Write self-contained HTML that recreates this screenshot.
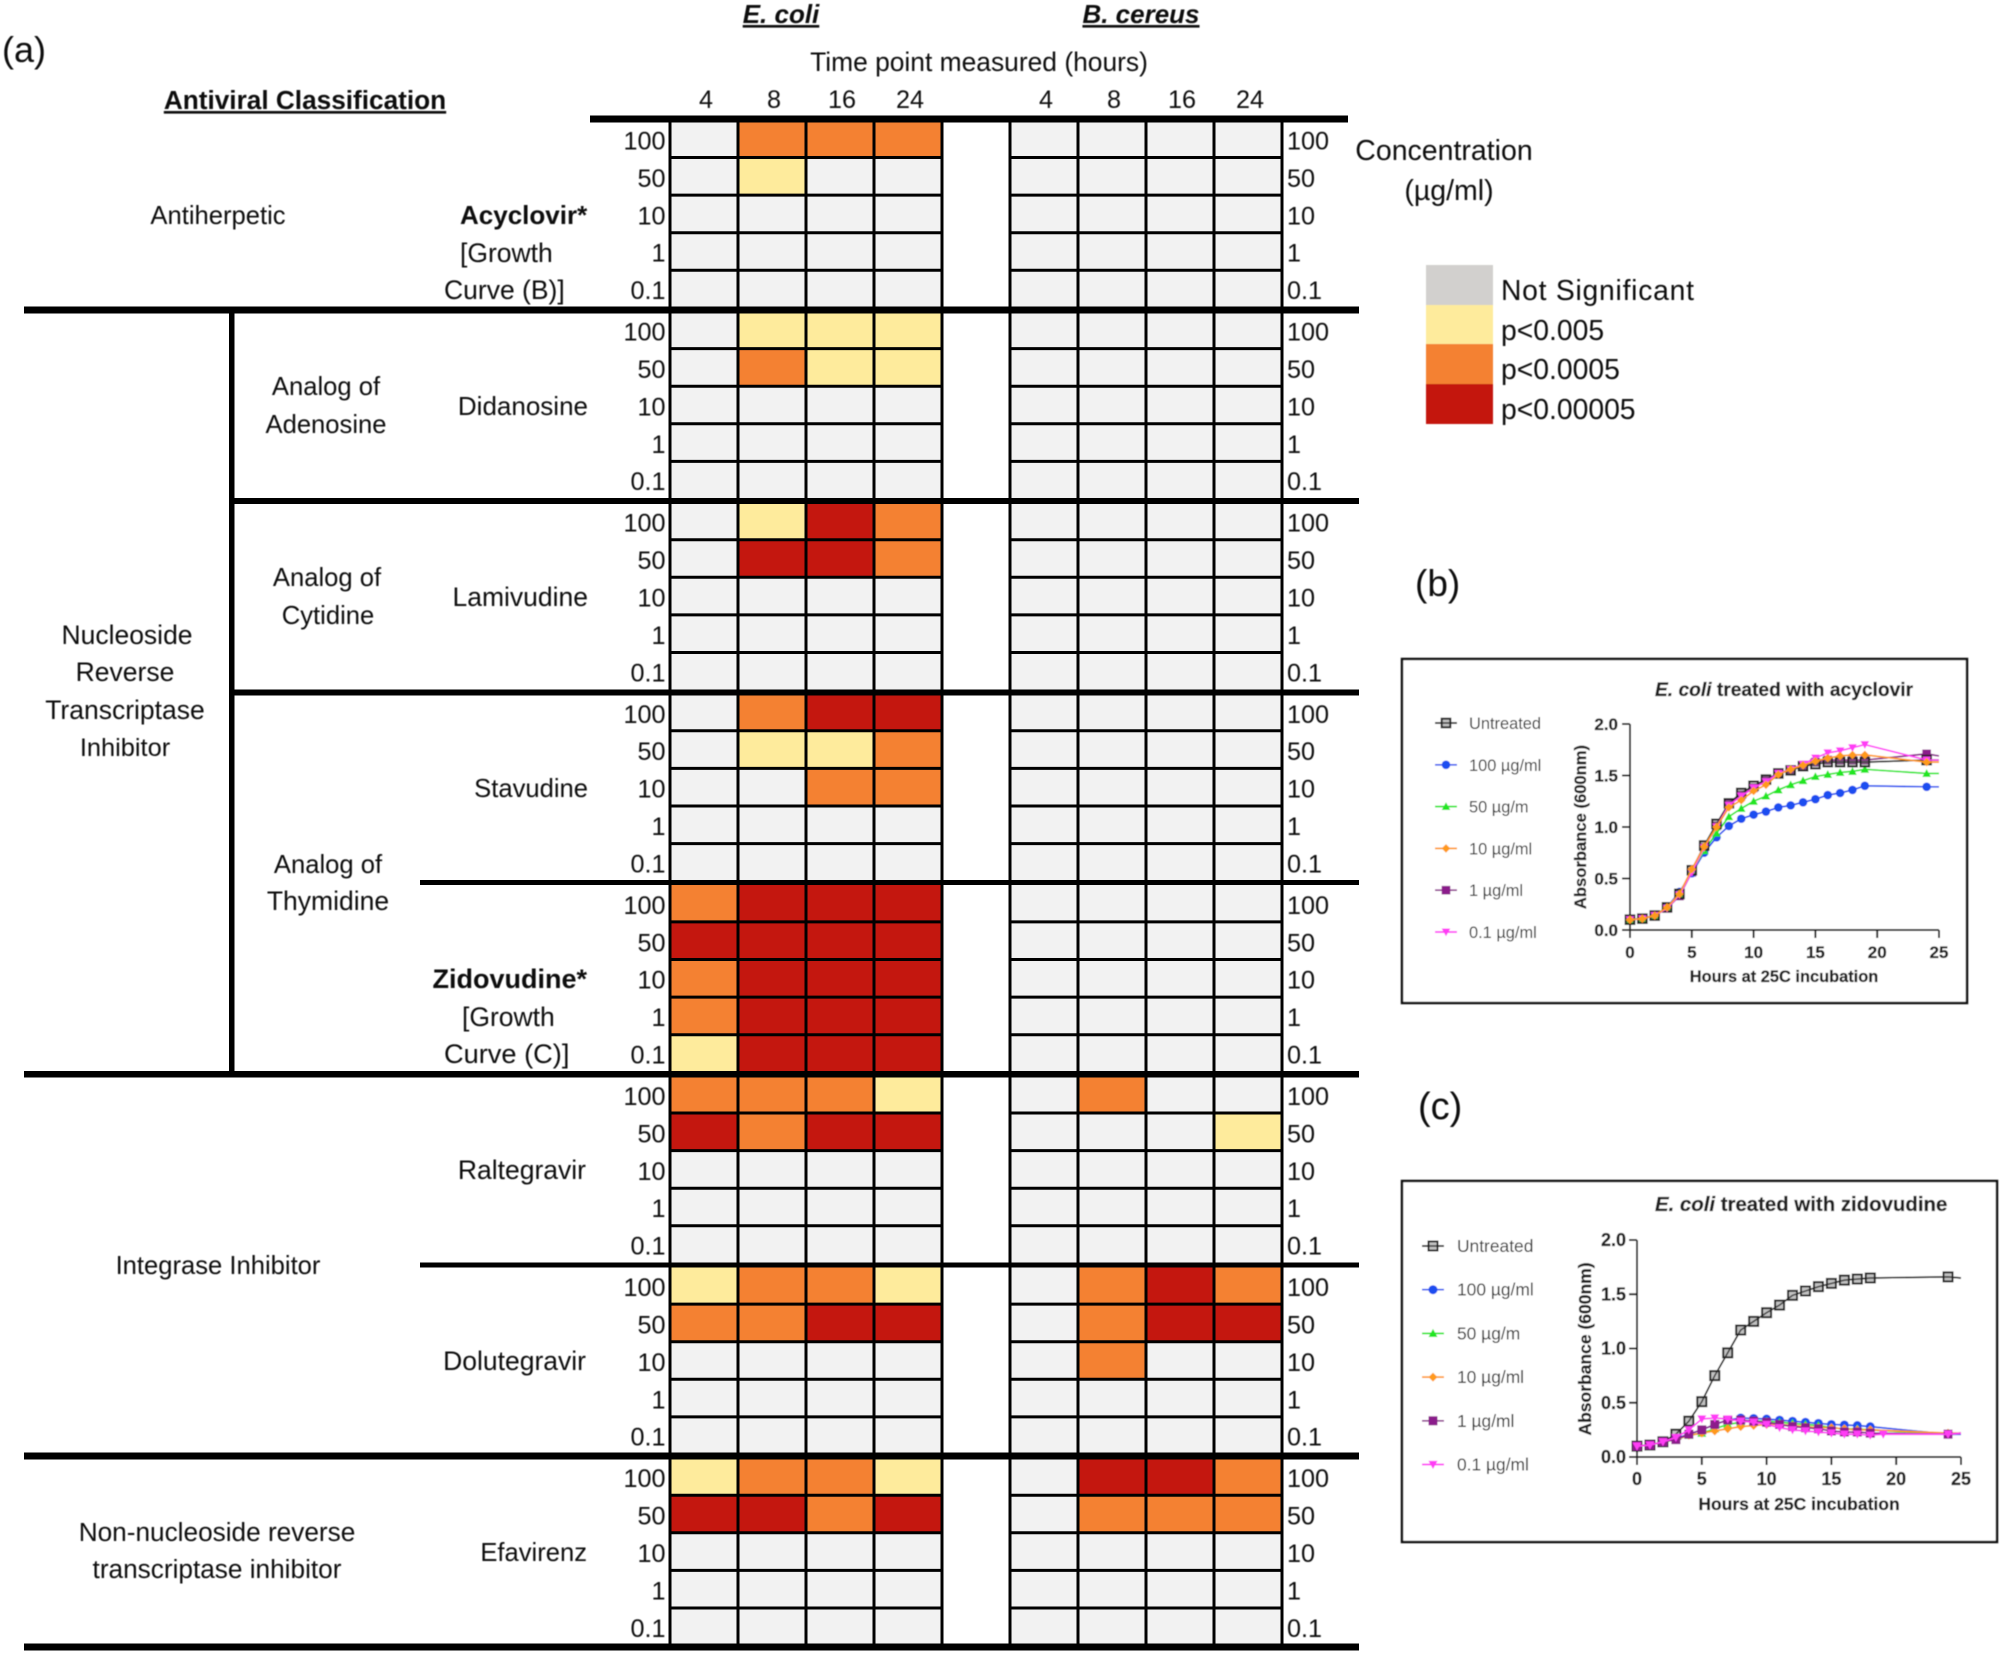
<!DOCTYPE html>
<html lang="en">
<head>
<meta charset="utf-8">
<title>Antiviral growth inhibition heatmap and growth curves</title>
<style>
html,body{margin:0;padding:0;background:#fff;}
svg{display:block;font-family:"Liberation Sans",Arial,sans-serif;}
.m{font-size:26.5px;fill:#111;}
.n{font-size:25.2px;fill:#111;}
.s{font-size:25.6px;}
.b{font-weight:bold;}
.e{text-anchor:end;}
.c{text-anchor:middle;}
#chart-b .b,#chart-c .b{stroke:#222;stroke-width:.3px;}
</style>
</head>
<body>
<svg id="figure" xmlns="http://www.w3.org/2000/svg" width="2000" height="1654" viewBox="0 0 2000 1654">
<defs><filter id="soft" x="-2%" y="-2%" width="104%" height="104%"><feGaussianBlur stdDeviation="0.55"/></filter></defs>
<rect x="0" y="0" width="2000" height="1654" fill="#fff"/>
<g id="heatmap"></g>
<g id="rules">
<rect x="590" y="115.5" width="758" height="7" fill="#000"/>
<rect x="24" y="306.5" width="1335" height="7" fill="#000"/>
<rect x="233" y="498" width="1126" height="6" fill="#000"/>
<rect x="233" y="689.5" width="1126" height="6" fill="#000"/>
<rect x="420" y="880" width="939" height="5" fill="#000"/>
<rect x="24" y="1071" width="1335" height="6.5" fill="#000"/>
<rect x="420" y="1262.5" width="939" height="5" fill="#000"/>
<rect x="24" y="1452.5" width="1335" height="7" fill="#000"/>
<rect x="24" y="1643.5" width="1335" height="7" fill="#000"/>
<rect x="229" y="310" width="5.5" height="764" fill="#000"/>
</g>
<g id="labels" filter="url(#soft)">
<text x="2" y="62" style="font-size:36px" fill="#111">(a)</text>
<text x="781" y="23" class="c b" style="font-size:26px;font-style:italic;text-decoration:underline" fill="#111">E. coli</text>
<text x="1141" y="23" class="c b" style="font-size:26px;font-style:italic;text-decoration:underline" fill="#111">B. cereus</text>
<text x="979" y="71" class="m c" style="font-size:26.4px">Time point measured (hours)</text>
<text x="305" y="109" class="m c b" style="font-size:26.2px;text-decoration:underline">Antiviral Classification</text>
<text x="218" y="224" class="m c s">Antiherpetic</text>
<text x="460" y="224" class="m b" style="font-size:26px">Acyclovir*</text>
<text x="460" y="262" class="m">[Growth</text>
<text x="444" y="299" class="m">Curve (B)]</text>
<text x="127" y="644" class="m c">Nucleoside</text>
<text x="125" y="681" class="m c">Reverse</text>
<text x="125" y="719" class="m c">Transcriptase</text>
<text x="125" y="756" class="m c" style="font-size:25.4px">Inhibitor</text>
<text x="326" y="395" class="m c s">Analog of</text>
<text x="326" y="433" class="m c s">Adenosine</text>
<text x="327" y="586" class="m c s">Analog of</text>
<text x="328" y="624" class="m c s">Cytidine</text>
<text x="328" y="873" class="m c s">Analog of</text>
<text x="328" y="910" class="m c">Thymidine</text>
<text x="588" y="415" class="m e" style="font-size:26px">Didanosine</text>
<text x="588" y="606" class="m e">Lamivudine</text>
<text x="588" y="797" class="m e s">Stavudine</text>
<text x="587" y="988" class="m e b" style="font-size:27px">Zidovudine*</text>
<text x="462" y="1026" class="m">[Growth</text>
<text x="444" y="1063" class="m" style="font-size:27.2px">Curve (C)]</text>
<text x="586" y="1179" class="m e">Raltegravir</text>
<text x="218" y="1274" class="m c s">Integrase Inhibitor</text>
<text x="586" y="1370" class="m e">Dolutegravir</text>
<text x="217" y="1541" class="m c" style="font-size:26.2px">Non-nucleoside reverse</text>
<text x="217" y="1578" class="m c" style="font-size:26.2px">transcriptase inhibitor</text>
<text x="587" y="1561" class="m e s">Efavirenz</text>
<text x="1444" y="160" class="m c" style="font-size:28.5px">Concentration</text>
<text x="1449" y="200" class="m c" style="font-size:28.5px">(µg/ml)</text>
<text x="1415" y="596" style="font-size:37px" fill="#111">(b)</text>
<text x="1418" y="1119" style="font-size:38px" fill="#111">(c)</text>
</g>
<g id="sig-legend" filter="url(#soft)">
<rect x="1426" y="265" width="67" height="40" fill="#d2d0ce"/>
<rect x="1426" y="305" width="67" height="39.5" fill="#feeb9c"/>
<rect x="1426" y="344" width="67" height="40" fill="#f48132"/>
<rect x="1426" y="384" width="67" height="40" fill="#c4170f"/>
<text x="1501" y="300" class="m" style="font-size:28.3px;letter-spacing:.75px">Not Significant</text>
<text x="1501" y="340" class="m" style="font-size:28.3px">p&lt;0.005</text>
<text x="1501" y="379" class="m" style="font-size:28.3px">p&lt;0.0005</text>
<text x="1501" y="419" class="m" style="font-size:28.3px">p&lt;0.00005</text>
</g>
<g id="chart-b" filter="url(#soft)">
<rect x="1402" y="659" width="565" height="344" fill="#fff" stroke="#111" stroke-width="2.5"/>
<text x="1655" y="696" class="b" style="font-size:19.2px" fill="#222"><tspan font-style="italic">E. coli</tspan> treated with acyclovir</text>
<text x="1784" y="982" class="c b" style="font-size:16.4px" fill="#222">Hours at 25C incubation</text>
<text transform="translate(1586,827) rotate(-90)" class="c b" style="font-size:16.6px" fill="#222">Absorbance (600nm)</text>
</g>
<g id="chart-c" filter="url(#soft)">
<rect x="1402" y="1181" width="595" height="361" fill="#fff" stroke="#111" stroke-width="2.5"/>
<text x="1655" y="1211" class="b" style="font-size:20.4px" fill="#222"><tspan font-style="italic">E. coli</tspan> treated with zidovudine</text>
<text x="1799" y="1510" class="c b" style="font-size:17.5px" fill="#222">Hours at 25C incubation</text>
<text transform="translate(1591,1349) rotate(-90)" class="c b" style="font-size:17.5px" fill="#222">Absorbance (600nm)</text>
</g>
</svg>
<script>
// ---- Heatmap data: level 0 = n.s., 1 = p<0.005, 2 = p<0.0005, 3 = p<0.00005
var concentrations = ['100', '50', '10', '1', '0.1'];
var timePoints = ['4', '8', '16', '24'];
var levelColors = ['#f2f2f2', '#feeb9c', '#f48132', '#c4170f'];
var acyclovirLevels = [[0,2,2,2,0,0,0,0],[0,1,0,0,0,0,0,0],[0,0,0,0,0,0,0,0],[0,0,0,0,0,0,0,0],[0,0,0,0,0,0,0,0]];
var didanosineLevels = [[0,1,1,1,0,0,0,0],[0,2,1,1,0,0,0,0],[0,0,0,0,0,0,0,0],[0,0,0,0,0,0,0,0],[0,0,0,0,0,0,0,0]];
var lamivudineLevels = [[0,1,3,2,0,0,0,0],[0,3,3,2,0,0,0,0],[0,0,0,0,0,0,0,0],[0,0,0,0,0,0,0,0],[0,0,0,0,0,0,0,0]];
var stavudineLevels = [[0,2,3,3,0,0,0,0],[0,1,1,2,0,0,0,0],[0,0,2,2,0,0,0,0],[0,0,0,0,0,0,0,0],[0,0,0,0,0,0,0,0]];
var zidovudineLevels = [[2,3,3,3,0,0,0,0],[3,3,3,3,0,0,0,0],[2,3,3,3,0,0,0,0],[2,3,3,3,0,0,0,0],[1,3,3,3,0,0,0,0]];
var raltegravirLevels = [[2,2,2,1,0,2,0,0],[3,2,3,3,0,0,0,1],[0,0,0,0,0,0,0,0],[0,0,0,0,0,0,0,0],[0,0,0,0,0,0,0,0]];
var dolutegravirLevels = [[1,2,2,1,0,2,3,2],[2,2,3,3,0,2,3,3],[0,0,0,0,0,2,0,0],[0,0,0,0,0,0,0,0],[0,0,0,0,0,0,0,0]];
var efavirenzLevels = [[1,2,2,1,0,3,3,2],[3,3,2,3,0,2,2,2],[0,0,0,0,0,0,0,0],[0,0,0,0,0,0,0,0],[0,0,0,0,0,0,0,0]];
var drugNames = ['acyclovir', 'didanosine', 'lamivudine', 'stavudine', 'zidovudine', 'raltegravir', 'dolutegravir', 'efavirenz'];
var drugLevels = [acyclovirLevels, didanosineLevels, lamivudineLevels, stavudineLevels, zidovudineLevels, raltegravirLevels, dolutegravirLevels, efavirenzLevels];

// ---- Growth curve data (absorbance at 600nm)
var xTickLabels = ['0', '5', '10', '15', '20', '25'];
var yTickLabels = ['0.0', '0.5', '1.0', '1.5', '2.0'];
var seriesLabels = ['Untreated', '100 µg/ml', '50 µg/m', '10 µg/ml', '1 µg/ml', '0.1 µg/ml'];
var seriesColors = ['#222222', '#1a4ef0', '#22e622', '#ff9a1a', '#8b1a8b', '#ff3df5'];
var seriesShapes = ['open-square', 'circle', 'triangle', 'diamond', 'square', 'inverted-triangle'];
var hours = [0,1,2,3,4,5,6,7,8,9,10,11,12,13,14,15,16,17,18,19,24,25];

var acyclovirUntreated = [.10,.11,.14,.22,.35,.58,.82,1.03,1.23,1.33,1.40,1.46,1.52,1.55,1.59,1.61,1.63,1.63,1.63,1.63,1.65,1.65];
var acyclovir100 = [.10,.11,.14,.22,.37,.55,.75,.90,1.01,1.08,1.12,1.15,1.19,1.21,1.24,1.27,1.31,1.33,1.36,1.40,1.39,1.39];
var acyclovir50 = [.10,.11,.14,.22,.35,.57,.77,.94,1.10,1.18,1.25,1.30,1.36,1.41,1.45,1.49,1.51,1.53,1.54,1.56,1.52,1.52];
var acyclovir10 = [.10,.11,.14,.22,.35,.59,.81,1.00,1.19,1.26,1.35,1.41,1.51,1.56,1.60,1.64,1.67,1.69,1.70,1.70,1.63,1.63];
var acyclovir1 = [.10,.11,.14,.21,.33,.56,.80,1.01,1.23,1.31,1.38,1.45,1.52,1.56,1.60,1.63,1.65,1.65,1.65,1.65,1.71,1.69];
var acyclovir01 = [.10,.11,.14,.21,.34,.56,.80,1.00,1.21,1.30,1.38,1.44,1.52,1.56,1.61,1.67,1.72,1.74,1.77,1.80,1.65,1.65];

var zidovudineUntreated = [.10,.11,.14,.21,.33,.51,.75,.96,1.17,1.25,1.33,1.40,1.49,1.53,1.57,1.60,1.63,1.64,1.65,null,1.66,1.65];
var zidovudine100 = [.10,.11,.14,.17,.21,.25,.30,.34,.36,.355,.35,.34,.33,.32,.31,.30,.295,.29,.28,null,.21,.21];
var zidovudine50 = [.10,.11,.14,.16,.20,.22,.26,.30,.32,.33,.33,.32,.31,.30,.29,.27,.26,.26,.25,null,.21,.22];
var zidovudine10 = [.10,.11,.14,.16,.20,.22,.24,.26,.28,.29,.30,.30,.29,.28,.27,.27,.26,.25,.25,null,.22,.22];
var zidovudine1 = [.10,.11,.14,.16,.21,.25,.30,.34,.34,.33,.32,.30,.28,.27,.26,.24,.23,.23,.22,null,.21,.22];
var zidovudine01 = [.10,.11,.14,.18,.25,.35,.36,.35,.33,.32,.30,.27,.25,.24,.23,.22,.21,.21,.20,.21,.21,.22];

var SVGNS = 'http://www.w3.org/2000/svg';
function make(tag, parent, attrs) {
  var el = document.createElementNS(SVGNS, tag);
  for (var k in attrs) { el.setAttribute(k, attrs[k]); }
  parent.appendChild(el);
  return el;
}

// ---- Heatmap drawing
(function drawHeatmap() {
  var root = document.getElementById('heatmap');
  var gridTop = 119.5, sectionH = 191.1, firstRow = 38, rowH = 37.6;
  var colW = 68, groupLeft = [670, 1010];
  function rowEdge(section, row) {
    var top = gridTop + section * sectionH;
    if (row === 0) return top;
    if (row === concentrations.length) return top + sectionH;
    return top + firstRow + (row - 1) * rowH;
  }
  function colEdge(col) {
    var group = Math.floor(col / timePoints.length);
    return groupLeft[group] + (col % timePoints.length) * colW;
  }
  drugLevels.forEach(function (levels, s) {
    levels.forEach(function (row, r) {
      row.forEach(function (level, c) {
        var cell = make('rect', root, {x: colEdge(c), y: rowEdge(s, r), width: colW, height: rowEdge(s, r + 1) - rowEdge(s, r), fill: levelColors[level]});
        
        
      });
    });
    for (var r = 1; r < concentrations.length; r++) {
      groupLeft.forEach(function (left) {
        var line = make('line', root, {x1: left, x2: left + colW * timePoints.length, y1: rowEdge(s, r), y2: rowEdge(s, r), stroke: '#000', 'stroke-width': 3});
        
        
      });
    }
    concentrations.forEach(function (conc, r) {
      var baseline = gridTop + s * sectionH + 30 + r * 37.4;
      var left = make('text', root, {x: 665.5, y: baseline, 'class': 'n e', filter: 'url(#soft)'});
      left.textContent = conc;
      
      
      var right = make('text', root, {x: 1287, y: baseline, 'class': 'n', filter: 'url(#soft)'});
      right.textContent = conc;
      
      
    });
  });
  groupLeft.forEach(function (left, g) {
    for (var c = 0; c <= timePoints.length; c++) {
      var line = make('line', root, {x1: left + c * colW, x2: left + c * colW, y1: gridTop, y2: gridTop + 8 * sectionH, stroke: '#000', 'stroke-width': 3});
      
      
    }
    timePoints.forEach(function (t, c) {
      var head = make('text', root, {x: left + (c + 0.5) * colW + 2, y: 108, 'class': 'n c', filter: 'url(#soft)'});
      head.textContent = t;
      
      
    });
  });
})();

// ---- Line chart drawing
function drawMarker(parent, shape, x, y, color, r) {
  var el;
  if (shape === 'circle') {
    el = make('circle', parent, {cx: x, cy: y, r: r, fill: color});
  } else if (shape === 'open-square') {
    el = make('rect', parent, {x: x - r, y: y - r, width: 2 * r, height: 2 * r, fill: '#777', 'fill-opacity': 0.45, stroke: color, 'stroke-width': 2});
  } else if (shape === 'square') {
    el = make('rect', parent, {x: x - r, y: y - r, width: 2 * r, height: 2 * r, fill: color});
  } else {
    var pts;
    if (shape === 'triangle') pts = [[x, y - r], [x + r, y + r * 0.8], [x - r, y + r * 0.8]];
    else if (shape === 'inverted-triangle') pts = [[x, y + r], [x + r, y - r * 0.8], [x - r, y - r * 0.8]];
    else pts = [[x, y - r], [x + r, y], [x, y + r], [x - r, y]];
    el = make('polygon', parent, {points: pts.map(function (p) { return p.join(','); }).join(' '), fill: color});
  }
  return el;
}

function drawChart(rootId, prefix, series, drawOrder, box, legend) {
  var root = document.getElementById(rootId);
  function sx(h) { return box.x0 + (h / 25) * (box.x25 - box.x0); }
  function sy(v) { return box.y0 + (v / 2) * (box.y2 - box.y0); }
  var axes = make('path', root, {d: 'M' + sx(0) + ' ' + sy(2) + 'V' + sy(0) + 'H' + sx(25), fill: 'none', stroke: '#222', 'stroke-width': 2});
  
  
  xTickLabels.forEach(function (label) {
    var x = sx(+label);
    var tick = make('line', root, {x1: x, x2: x, y1: sy(0), y2: sy(0) + 8, stroke: '#222', 'stroke-width': 2});
    
    
    var text = make('text', root, {x: x, y: box.xLabelY, 'class': 'c b', fill: '#222', style: 'font-size:' + box.tickFont + 'px'});
    text.textContent = label;
    
    
  });
  yTickLabels.forEach(function (label) {
    var y = sy(+label);
    var tick = make('line', root, {x1: sx(0) - 8, x2: sx(0), y1: y, y2: y, stroke: '#222', 'stroke-width': 2});
    
    
    var text = make('text', root, {x: box.yLabelX, y: y + 6, 'class': 'e b', fill: '#222', style: 'font-size:' + box.tickFont + 'px'});
    text.textContent = label;
    
    
  });
  drawOrder.forEach(function (i) {
    var values = series[i];
    var color = seriesColors[i];
    var pts = [];
    hours.forEach(function (h, j) { if (values[j] !== null) pts.push(sx(h) + ',' + sy(values[j])); });
    var line = make('polyline', root, {points: pts.join(' '), fill: 'none', stroke: color, 'stroke-width': 1.7});
    
    
    hours.forEach(function (h, j) {
      // the final hour only extends the line; no symbol was plotted there
      if (values[j] === null || j === hours.length - 1) return;
      var mark = drawMarker(root, seriesShapes[i], sx(h), sy(values[j]), color, box.markerR);
      
      
    });
  });
  seriesLabels.forEach(function (label, i) {
    var y = legend.top + i * legend.step;
    var sample = make('line', root, {x1: legend.x0, x2: legend.x1, y1: y, y2: y, stroke: seriesColors[i], 'stroke-width': 1.7});
    
    
    var key = drawMarker(root, seriesShapes[i], (legend.x0 + legend.x1) / 2, y, seriesColors[i], box.markerR);
    
    
    var text = make('text', root, {x: legend.textX, y: y + 6, fill: '#333', style: 'font-size:' + legend.font + 'px'});
    text.textContent = label;
    
    
  });
}

drawChart('chart-b', 'acyclovir',
  [acyclovirUntreated, acyclovir100, acyclovir50, acyclovir10, acyclovir1, acyclovir01],
  [4, 1, 2, 0, 5, 3],
  {x0: 1630, x25: 1939, y0: 930, y2: 724, xLabelY: 958, yLabelX: 1618, tickFont: 17, markerR: 4.3},
  {top: 723, step: 41.8, x0: 1435, x1: 1457, textX: 1469, font: 16.4});

drawChart('chart-c', 'zidovudine',
  [zidovudineUntreated, zidovudine100, zidovudine50, zidovudine10, zidovudine1, zidovudine01],
  [0, 1, 2, 3, 4, 5],
  {x0: 1637, x25: 1961, y0: 1457, y2: 1240, xLabelY: 1485, yLabelX: 1626, tickFont: 18, markerR: 4.5},
  {top: 1246, step: 43.7, x0: 1422, x1: 1444, textX: 1457, font: 17.4});
</script>
</body>
</html>
